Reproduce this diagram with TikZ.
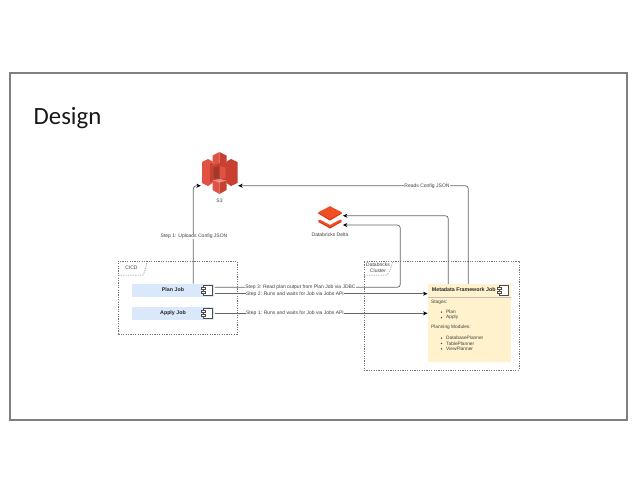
\documentclass[tikz,border=0pt]{standalone}
\usepackage{fontspec}
\setmainfont{Liberation Sans}
\newfontfamily\titlefont{Carlito}
\usetikzlibrary{arrows.meta}
\definecolor{framegray}{HTML}{7F7F7F}
\definecolor{linegray}{HTML}{666666}
\definecolor{jobblue}{HTML}{DAE8FC}
\definecolor{jobyellow}{HTML}{FFF2CC}
\definecolor{sred}{HTML}{E05243}
\definecolor{sredb}{HTML}{C8402F}
\definecolor{sdark}{HTML}{8C3123}
\definecolor{dred}{HTML}{F04E23}
\definecolor{dredb}{HTML}{D93A17}
\tikzset{
  frameline/.style={draw=framegray,line width=1.1pt},
  conn/.style={draw=linegray,line width=0.7pt,rounded corners=3pt,-{Stealth[length=4.5pt,width=4pt,color=black]}},
  grp/.style={draw=black!55,line width=0.5pt,dash pattern=on 1.2pt off 1.2pt},
  job/.style={fill=jobblue,draw=none,inner sep=0pt,minimum width=82.5pt,minimum height=13pt},
  lbl/.style={fill=white,inner sep=0.4pt,font=\fontsize{5}{6.2}\selectfont,text=black!75},
  txt/.style={inner sep=0pt,font=\fontsize{4.8}{6}\selectfont,text=black!75,anchor=west},
  boldtxt/.style={inner sep=0pt,font=\fontsize{5.3}{6.2}\selectfont\bfseries,text=black!85},
  iconbox/.style={inner sep=0pt,minimum width=37pt,minimum height=41pt},
  dot/.style={circle,fill=black!75,inner sep=0pt,minimum size=1.5pt},
}
\newcommand{\compicon}[2]{% x, y of centre
  \draw[black!70,line width=0.5pt,fill=white] (#1-4.5,#2-5) rectangle (#1+4.5,#2+5);
  \draw[black!70,line width=0.5pt,fill=white] (#1-6.5,#2-3) rectangle (#1-2.5,#2-0.8);
  \draw[black!70,line width=0.5pt,fill=white] (#1-6.5,#2+0.8) rectangle (#1-2.5,#2+3);
}
\begin{document}
\begin{tikzpicture}[x=1pt,y=-1pt]
\useasboundingbox (0,0) rectangle (638,493);
\fill[white] (0,0) rectangle (638,493);
\node[frameline,inner sep=0pt,minimum width=617pt,minimum height=347pt] (frame) at (318.5,246.5) {};
\node[inner sep=0pt,anchor=base west,font=\fontsize{24.8}{28}\selectfont\titlefont,text=black!90] (title) at (33.5,124) {Design};

% group boxes
\node[grp,inner sep=0pt,minimum width=118.7pt,minimum height=72.7pt] (cicd) at (177.7,297.7) {};
\draw[grp] (118.3,275) -- (143,275) .. controls (145,272) and (146.5,266) .. (147,261.3);
\node[lbl,fill=none] (cicdlabel) at (131.5,268) {CICD};
\node[grp,inner sep=0pt,minimum width=155pt,minimum height=109pt] (cluster) at (441.5,315.5) {};
\draw[grp] (364,275) -- (387,275) .. controls (389.5,272) and (392,266) .. (392.7,261);
\node[lbl,fill=none,align=center] (clusterlabel) at (378,268) {Databricks\\Cluster};

% jobs
\node[job] (plan) at (173.2,290.3) {};
\node[boldtxt] (plantext) at (173,289.7) {Plan Job};
\compicon{208}{290.3}
\node[job] (apply) at (173.2,313.3) {};
\node[boldtxt] (applytext) at (173,312.7) {Apply Job};
\compicon{208}{313.3}

% metadata
\node[fill=jobyellow,inner sep=0pt,minimum width=83pt,minimum height=77.7pt] (meta) at (469.2,322.8) {};
\draw[black!25,line width=0.4pt] (427.7,297) -- (510.7,297);
\node[boldtxt] (metatext) at (463.7,289.6) {Metadata Framework Job};
\compicon{503.5}{290}
\node[txt] (stages) at (431,302.5) {Stages:};
\node[dot] (d1) at (441.5,312) {}; \node[txt] (t1) at (446,312) {Plan};
\node[dot] (d2) at (441.5,317.5) {}; \node[txt] (t2) at (446,317.5) {Apply};
\node[txt] (planning) at (431,327.7) {Planning Modules:};
\node[dot] (d3) at (441.5,338) {}; \node[txt] (t3) at (446,338) {DatabasePlanner};
\node[dot] (d4) at (441.5,343.4) {}; \node[txt] (t4) at (446,343.4) {TablePlanner};
\node[dot] (d5) at (441.5,348.8) {}; \node[txt] (t5) at (446,348.8) {ViewPlanner};

% S3 icon
\node[iconbox] (s3) at (219.5,172.5) {};
\fill[sred] (202,162) -- (208,159) -- (212.5,161.5) -- (212.5,183) -- (208,186) -- (202,183) -- cycle;
\fill[sredb] (237.5,162) -- (231,159) -- (226.5,161.5) -- (226.5,183) -- (231,186) -- (237.5,183) -- cycle;
\fill[sredb] (210,163) -- (229,163) -- (229,182) -- (210,182) -- cycle;
\fill[sred] (219.5,152) -- (212.5,155.5) -- (212.5,165.5) -- (219.5,163) -- cycle;
\fill[sredb] (219.5,152) -- (226.5,155.5) -- (226.5,165.5) -- (219.5,163) -- cycle;
\fill[sred] (212.5,180.5) -- (219.5,182.5) -- (219.5,194) -- (212.5,190) -- cycle;
\fill[sredb] (226.5,180.5) -- (219.5,182.5) -- (219.5,194) -- (226.5,190) -- cycle;
\fill[sred!65!white] (212.5,180.5) -- (219.5,179) -- (226.5,180.5) -- (219.5,182.5) -- cycle;
\fill[sdark!75!sred] (213.5,167.5) -- (219.5,166) -- (219.5,179) -- (213.5,178) -- cycle;
\fill[sred] (219.5,166) -- (225.5,167.5) -- (225.5,178) -- (219.5,179) -- cycle;
\node[lbl,fill=none] (s3label) at (219.5,201) {S3};

% Delta icon
\node[inner sep=0pt,minimum width=25pt,minimum height=23pt] (delta) at (330,217.5) {};
\fill[dredb] (318,221.8) -- (330,216) -- (342,221.8) -- (330,228.5) -- cycle;
\fill[dred] (318,220.6) -- (330,214.5) -- (342,220.6) -- (330,227) -- cycle;
\fill[white] (318,218.4) -- (330,224.8) -- (342,218.4) -- (342,216.8) -- (318,216.8) -- cycle;
\fill[dredb] (318,213.4) -- (330,207.4) -- (342,213.4) -- (330,220.6) -- cycle;
\fill[dred] (318,212.4) -- (330,206.2) -- (342,212.4) -- (330,218.8) -- cycle;
\node[lbl,fill=none] (deltalabel) at (330,235) {Databricks Delta};

% connector ends (yshift is measured upward on the page)
\coordinate (planup) at ([xshift=20.1pt]plan.north);
\coordinate (s3left) at ([yshift=-13.2pt]s3.west);
\coordinate (s3right) at ([yshift=-13.2pt]s3.east);
\coordinate (deltaup) at ([xshift=0.2pt,yshift=1.8pt]delta.east);
\coordinate (deltalow) at ([xshift=0.2pt,yshift=-7.5pt]delta.east);
\coordinate (metaa) at ([xshift=-0.9pt]meta.north);
\coordinate (metab) at ([xshift=-20.9pt]meta.north);
\coordinate (plana) at ([yshift=3pt]plan.east);
\coordinate (planb) at ([yshift=-3.4pt]plan.east);
\coordinate (metap) at ([yshift=29.1pt]meta.west);
\coordinate (metaq) at ([yshift=9.5pt]meta.west);
\coordinate (bend) at (400.3,225);

\draw[conn] (planup) |- (s3left);
\draw[conn] (metaa) |- (s3right);
\draw[conn] (metab) |- (deltaup);
\draw[conn] (plana) -| (bend) -- (deltalow);
\draw[conn] (planb) -- (metap);
\draw[conn] (apply.east) -- (metaq);

% connector labels
\node[lbl] (l1) at (194,236.7) {Step 1: Uploads Config JSON};
\node[lbl] (l2) at (427,186) {Reads Config JSON};
\node[lbl] (l3) at (300.5,287.3) {Step 3: Read plan output from Plan Job via JDBC};
\node[lbl] (l4) at (295,293.9) {Step 2: Runs and waits for Job via Jobs API};
\node[lbl] (l5) at (295,313.3) {Step 1: Runs and waits for Job via Jobs API};
\end{tikzpicture}
\end{document}
